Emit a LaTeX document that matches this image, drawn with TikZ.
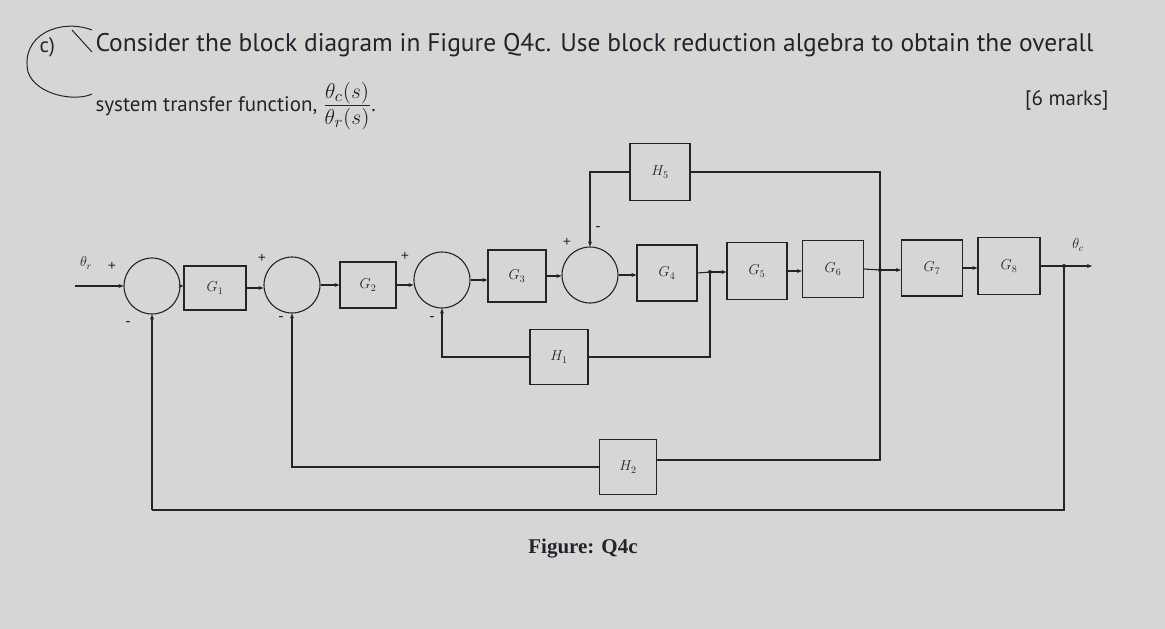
\documentclass[tikz,border=0pt]{standalone}
\usepackage{fontspec}
\usepackage{amsmath}
\setmainfont{Liberation Serif}
\newfontfamily\titlefont{PT Sans}
\usetikzlibrary{arrows.meta}
\definecolor{paper}{RGB}{214,214,212}
\definecolor{ink}{RGB}{35,35,45}
\begin{document}
\begin{tikzpicture}[x=1pt,y=-1pt,
  blk/.style={draw=ink,line width=1.1pt,minimum width=60pt,minimum height=55pt,inner sep=0pt,font=\Large\itshape,text=ink},
  sumj/.style={draw=ink,line width=1.1pt,circle,minimum size=56pt,inner sep=0pt},
  ln/.style={draw=ink,line width=1.1pt},
  ar/.style={ln,-{Stealth[length=5pt,width=4pt]}},
  sg/.style={font=\Large\bfseries,text=ink},
  tt/.style={font=\titlefont\fontsize{21}{24}\selectfont,text=ink,anchor=west}]
\fill[paper] (0,0) rectangle (1165,629);
\useasboundingbox (0,0) rectangle (1165,629);
% title
\node[tt] (c) at (36,47) {c)};
\draw[ink,line width=1pt] (92,30) .. controls (60,18) and (20,35) .. (28,72) .. controls (36,95) and (75,102) .. (92,94);
\draw[ink,line width=1pt] (72,30) -- (92,52);
\node[tt] (t1) at (92,45) {\resizebox{998pt}{!}{Consider the block diagram in Figure Q4c. Use block reduction algebra to obtain the overall}};
\node[tt] (t2) at (92,106) {system transfer function, \raisebox{-2pt}{\scalebox{1.5}{$\frac{\theta_c(s)}{\theta_r(s)}$}}.};
\node[tt,anchor=east] (mk) at (1112,100) {[6 marks]};
% junctions and blocks
\node[sumj] (s1) at (152,286) {};
\node[blk,minimum width=62pt,minimum height=44pt] (g1) at (215,288) {$G_1$};
\node[sumj] (s2) at (292,285) {};
\node[blk,minimum width=56pt,minimum height=46pt] (g2) at (368,285) {$G_2$};
\node[sumj] (s3) at (442,280) {};
\node[blk,minimum width=58pt,minimum height=52pt] (g3) at (517,276) {$G_3$};
\node[sumj] (s4) at (590,275) {};
\node[blk,minimum width=60pt,minimum height=56pt] (g4) at (667,273) {$G_4$};
\node[blk,minimum width=60pt,minimum height=57pt] (g5) at (757,271) {$G_5$};
\node[blk,minimum width=61pt,minimum height=57pt] (g6) at (833,269) {$G_6$};
\node[blk,minimum width=61pt,minimum height=56pt] (g7) at (932,268) {$G_7$};
\node[blk,minimum width=62pt,minimum height=57pt] (g8) at (1009,266) {$G_8$};
\node[blk,minimum width=60pt,minimum height=57pt] (h5) at (660,172) {$H_5$};
\node[blk,minimum width=58pt,minimum height=55pt] (h1) at (559,357) {$H_1$};
\node[blk,minimum width=57pt,minimum height=55pt] (h2) at (628,467) {$H_2$};
% coordinates
\coordinate (in) at (75,286);
\coordinate (b1) at (710,272);
\coordinate (b2) at (880,270);
\coordinate (b2d) at (880,460);
\coordinate (b3) at (1064,266);
\coordinate (out) at (1092,266);
% forward path
\draw[ar] (in) -- (s1.west);
\draw[ar] (s1.east) -- (g1.west |- s1.east);
\draw[ar] (g1.east) -- (s2.west |- g1.east);
\draw[ar] (s2.east) -- (g2.west |- s2.east);
\draw[ar] (g2.east) -- (s3.west |- g2.east);
\draw[ar] (s3.east) -- (g3.west |- s3.east);
\draw[ar] (g3.east) -- (s4.west |- g3.east);
\draw[ar] (s4.east) -- (g4.west |- s4.east);
\draw[ln] (g4.east) -- (b1);
\draw[ar] (b1) -- (g5.west |- b1);
\draw[ar] (g5.east) -- (g6.west |- g5.east);
\draw[ln] (g6.east) -- (b2);
\draw[ar] (b2) -- (g7.west |- b2);
\draw[ar] (g7.east) -- (g8.west |- g7.east);
\draw[ar] (g8.east) -- (out);
% feedbacks
\draw[ar] (h5.west) -| (s4.north);
\draw[ln] (h5.east) -| (b2d) -- (h2.east |- b2d);
\draw[ln] (b1) |- (h1.east);
\draw[ar] (h1.west) -| (s3.south);
\draw[ar] (h2.west) -| (s2.south);
\draw[ln] (b3) |- (152,510);
\draw[ar] (152,510) -- (s1.south);
\foreach \p in {b1,b2,b3} \fill[ink] (\p) circle (2pt);
% signs and labels
\node[sg] (p1) at (112,266) {+};
\node[sg] (m1) at (128,323) {-};
\node[sg] (p2) at (262,258) {+};
\node[sg] (m2) at (281,318) {-};
\node[sg] (p3) at (405,256) {+};
\node[sg] (m3) at (432,318) {-};
\node[sg] (p4) at (567,242) {+};
\node[sg] (m4) at (598,228) {-};
\node[font=\Large\itshape,text=ink] (thr) at (86,263) {$\theta_r$};
\node[font=\Large\itshape,text=ink] (thc) at (1078,245) {$\theta_c$};
\node[font=\fontsize{21}{24}\selectfont\bfseries,text=ink] (fig) at (583,549) {Figure: Q4c};
\end{tikzpicture}
\end{document}
